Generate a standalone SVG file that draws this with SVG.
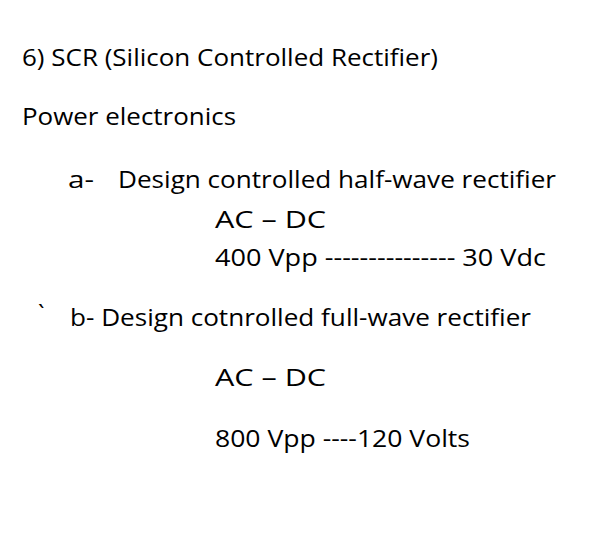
<svg xmlns="http://www.w3.org/2000/svg" width="607" height="554" viewBox="0 0 607 554">
<style>text{font-family:"Open Sans","Liberation Sans",sans-serif;font-size:23px;fill:#000}</style>
<rect width="607" height="554" fill="#fff"/>
<text x="22" y="66" textLength="416" lengthAdjust="spacingAndGlyphs">6) SCR (Silicon Controlled Rectifier)</text>
<text x="22" y="125" textLength="214" lengthAdjust="spacingAndGlyphs">Power electronics</text>
<text x="68" y="188" textLength="26" lengthAdjust="spacingAndGlyphs">a-</text>
<text x="118" y="188" textLength="438" lengthAdjust="spacingAndGlyphs">Design controlled half-wave rectifier</text>
<text x="215" y="228" textLength="111" lengthAdjust="spacingAndGlyphs">AC – DC</text>
<text x="215" y="266" textLength="331" lengthAdjust="spacingAndGlyphs">400 Vpp --------------- 30 Vdc</text>
<text x="38" y="322">`</text>
<text x="70" y="326" textLength="461" lengthAdjust="spacingAndGlyphs">b- Design cotnrolled full-wave rectifier</text>
<text x="215" y="386" textLength="111" lengthAdjust="spacingAndGlyphs">AC – DC</text>
<text x="215" y="447" textLength="255" lengthAdjust="spacingAndGlyphs">800 Vpp ----120 Volts</text>
</svg>
